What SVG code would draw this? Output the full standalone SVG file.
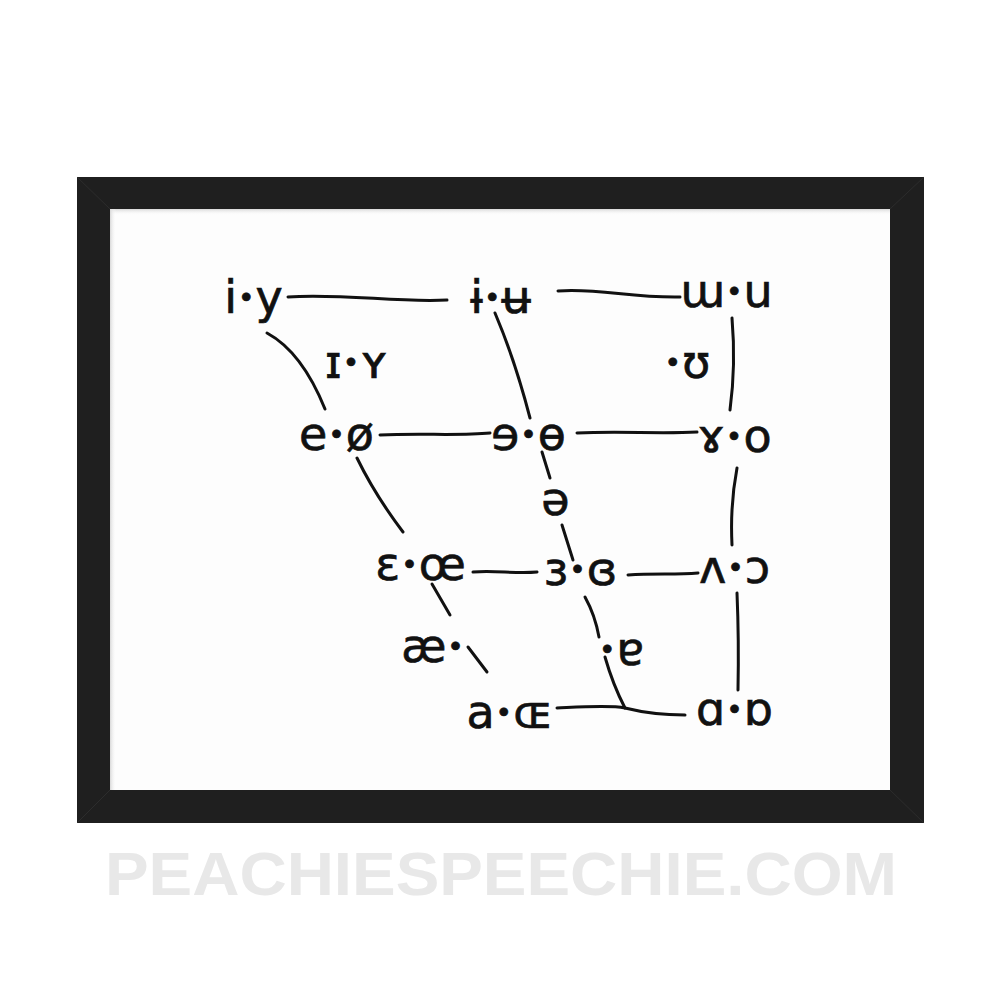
<svg xmlns="http://www.w3.org/2000/svg" width="1000" height="1000" viewBox="0 0 1000 1000">
  <defs>
    <style>
      .ipa { font-family: "DejaVu Sans", "Noto Sans", sans-serif; font-size: 46px; fill: #111; stroke: #111; stroke-width: 0.7; text-anchor: middle; letter-spacing: 1px; }
      .d { font-size: 28px; baseline-shift: 6px; }
      .con { fill: none; stroke: #111; stroke-width: 3; stroke-linecap: round; stroke-linejoin: round; }
      .wm { font-family: "Liberation Sans", Arial, sans-serif; font-weight: bold; font-size: 61px; fill: #e8e8e8; text-anchor: middle; }
    </style>
    <linearGradient id="shTop" x1="0" y1="0" x2="0" y2="1">
      <stop offset="0" stop-color="#d8d8d8"/>
      <stop offset="1" stop-color="#fdfdfd" stop-opacity="0"/>
    </linearGradient>
    <linearGradient id="shLeft" x1="0" y1="0" x2="1" y2="0">
      <stop offset="0" stop-color="#d8d8d8"/>
      <stop offset="1" stop-color="#fdfdfd" stop-opacity="0"/>
    </linearGradient>
  </defs>
  <rect x="0" y="0" width="1000" height="1000" fill="#ffffff"/>

  <g id="frame">
    <rect x="77" y="177" width="847" height="646" fill="#1f1f1f"/>
    <rect x="110" y="209" width="780" height="581" fill="#fdfdfd"/>
    <rect x="110" y="209" width="780" height="6" fill="url(#shTop)"/>
    <rect x="110" y="209" width="6" height="581" fill="url(#shLeft)"/>
    <g stroke="#2c2c2c" stroke-width="1">
      <line x1="77" y1="177" x2="110" y2="209"/>
      <line x1="924" y1="177" x2="890" y2="209"/>
      <line x1="77" y1="823" x2="110" y2="790"/>
      <line x1="924" y1="823" x2="890" y2="790"/>
    </g>
  </g>

  <g id="connectors">
    <path class="con" d="M288,297 C340,293 400,303 447,300"/>
    <path class="con" d="M558,291 C600,288 630,298 680,297"/>
    <path class="con" d="M267,333 Q302,352 325,409"/>
    <path class="con" d="M495,313 Q515,360 530,418"/>
    <path class="con" d="M732,318 Q736,365 730,410"/>
    <path class="con" d="M380,435 C420,433 460,436 490,433"/>
    <path class="con" d="M577,433 C620,431 660,434 697,432"/>
    <path class="con" d="M357,458 Q375,495 403,532"/>
    <path class="con" d="M542,452 L550,478"/>
    <path class="con" d="M562,525 L573,560"/>
    <path class="con" d="M737,468 Q730,505 732,545"/>
    <path class="con" d="M473,572 C495,570 515,574 537,572"/>
    <path class="con" d="M628,575 C655,573 675,575 698,573"/>
    <path class="con" d="M432,584 L450,615"/>
    <path class="con" d="M468,647 L487,672"/>
    <path class="con" d="M585,597 Q595,615 599,637"/>
    <path class="con" d="M605,657 Q613,685 625,708"/>
    <path class="con" d="M557,708 C580,707 610,705 625,708 C645,713 665,715 685,715"/>
    <path class="con" d="M737,593 Q739,640 738,690"/>
  </g>

  <g id="n-iy"><text class="ipa" x="254" y="313">i<tspan class="d">•</tspan>y</text></g>
  <g id="n-central-high"><text class="ipa" x="501" y="313">ɨ<tspan class="d">•</tspan>ʉ</text></g>
  <g id="n-back-high"><text class="ipa" x="727" y="307">ɯ<tspan class="d">•</tspan>u</text></g>
  <g id="n-near-high-front"><text class="ipa" x="357" y="378">ɪ<tspan class="d">•</tspan>ʏ</text></g>
  <g id="n-near-high-back"><text class="ipa" x="688" y="378"><tspan class="d">•</tspan>ʊ</text></g>
  <g id="n-close-mid-front"><text class="ipa" x="337" y="450">e<tspan class="d">•</tspan>ø</text></g>
  <g id="n-close-mid-central"><text class="ipa" x="529" y="450">ɘ<tspan class="d">•</tspan>ɵ</text></g>
  <g id="n-close-mid-back"><text class="ipa" x="735" y="452">ɤ<tspan class="d">•</tspan>o</text></g>
  <g id="n-schwa"><text class="ipa" x="556" y="515">ə</text></g>
  <g id="n-open-mid-front"><text class="ipa" x="421" y="580">ɛ<tspan class="d">•</tspan>œ</text></g>
  <g id="n-open-mid-central"><text class="ipa" x="581" y="585">ɜ<tspan class="d">•</tspan>ɞ</text></g>
  <g id="n-open-mid-back"><text class="ipa" x="735" y="583">ʌ<tspan class="d">•</tspan>ɔ</text></g>
  <g id="n-ae"><text class="ipa" x="433" y="662">æ<tspan class="d">•</tspan></text></g>
  <g id="n-near-open-central"><text class="ipa" x="622" y="665"><tspan class="d">•</tspan>ɐ</text></g>
  <g id="n-open-front"><text class="ipa" x="510" y="728">a<tspan class="d">•</tspan>ɶ</text></g>
  <g id="n-open-back"><text class="ipa" x="735" y="725">ɑ<tspan class="d">•</tspan>ɒ</text></g>

  <g id="watermark"><text class="wm" x="501" y="895" textLength="792" lengthAdjust="spacingAndGlyphs">PEACHIESPEECHIE.COM</text></g>
</svg>
